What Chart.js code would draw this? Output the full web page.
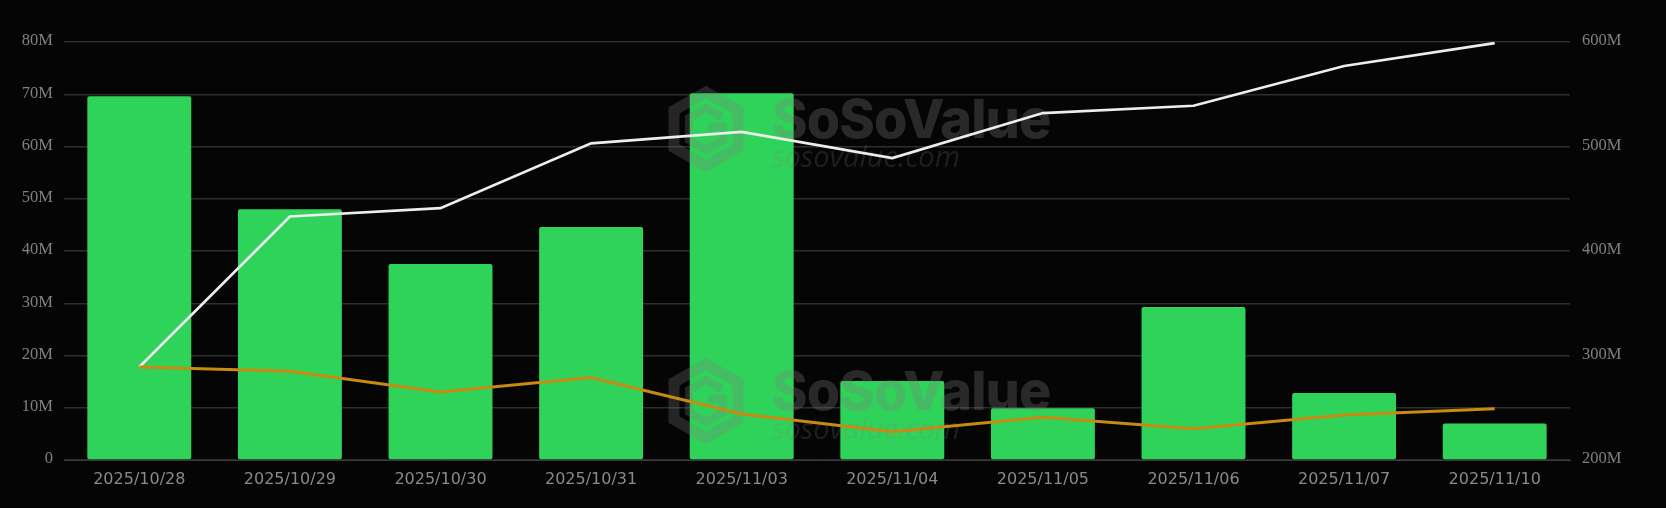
<!DOCTYPE html>
<html>
<head>
<meta charset="utf-8">
<title>Chart</title>
<script src="https://cdn.jsdelivr.net/npm/chart.js@4"></script>
<style>
    html, body { margin: 0; padding: 0; background: #050505; }
    #wrap { width: 1666px; height: 508px; }
</style>
</head>
<body>
<div id="wrap"><canvas id="chart"></canvas></div>
<script>
const dates = ['2025/10/28', '2025/10/29', '2025/10/30', '2025/10/31', '2025/11/03',
    '2025/11/04', '2025/11/05', '2025/11/06', '2025/11/07', '2025/11/10'];
const barValues = [69.6, 48, 37.5, 44.6, 70.2, 15.1, 9.9, 29.3, 12.8, 7];
const whiteLine = [289, 433, 441, 503, 514, 489, 532, 539, 577, 599];
const orangeLine = [289, 285, 265, 279, 244, 227, 241, 230, 243, 249];

// SoSoValue watermark, sits above the bars but under the lines
const watermark = {
    id: 'watermark',
    beforeDatasetDraw(chart, args) {
        if (args.index !== 1) return;
        const ctx = chart.ctx;
        [0, 272].forEach(dy => {
            ctx.save();
            ctx.fillStyle = 'rgba(125,125,125,0.3)';
            ctx.strokeStyle = 'rgba(125,125,125,0.27)';
            const cx = 706, cy = 129 + dy;
            // logo: hexagon ring
            ctx.lineWidth = 11;
            ctx.lineJoin = 'miter';
            ctx.beginPath();
            for (let i = 0; i < 6; i++) {
                const a = Math.PI / 6 + i * Math.PI / 3;
                ctx.lineTo(cx + 37 * Math.cos(a), cy + 37 * Math.sin(a));
            }
            ctx.closePath();
            ctx.stroke();
            // logo: inner fold
            ctx.lineWidth = 8;
            ctx.beginPath();
            ctx.moveTo(cx + 16, cy - 12);
            ctx.lineTo(cx, cy - 21);
            ctx.lineTo(cx - 17, cy - 11);
            ctx.lineTo(cx - 17, cy + 11);
            ctx.lineTo(cx, cy + 21);
            ctx.lineTo(cx + 17, cy + 11);
            ctx.lineTo(cx + 17, cy - 2);
            ctx.lineTo(cx + 2, cy - 2);
            ctx.stroke();
            ctx.textBaseline = 'alphabetic';
            ctx.font = '800 54px Inter';
            ctx.letterSpacing = '-0.9px';
            ctx.fillText('SoSoValue', 772, 138 + dy);
            ctx.letterSpacing = '0px';
            ctx.fillStyle = 'rgba(125,125,125,0.22)';
            ctx.font = 'italic 29px "Open Sans"';
            ctx.fillText('sosovalue.com', 772, 167 + dy);
            ctx.restore();
        });
    }
};

new Chart(document.getElementById('chart'), {
    data: {
        labels: dates,
        datasets: [
            { type: 'line', data: orangeLine, yAxisID: 'right', borderColor: '#c88a12', borderWidth: 3, pointRadius: 0, tension: 0, order: 0 },
            { type: 'line', data: whiteLine, yAxisID: 'right', borderColor: '#ededed', borderWidth: 2.7, pointRadius: 0, tension: 0, order: 1 },
            { type: 'bar', data: barValues, yAxisID: 'left', backgroundColor: '#30d35a', barPercentage: 0.69, categoryPercentage: 1, borderRadius: 2, borderSkipped: false, order: 2 }
        ]
    },
    options: {
        responsive: true,
        maintainAspectRatio: false,
        animation: false,
        layout: { padding: { top: 42, left: 0, right: 0, bottom: 0 } },
        plugins: { legend: { display: false }, tooltip: { enabled: false } },
        scales: {
            x: {
                grid: { display: false },
                border: { color: '#3a3a3a' },
                afterFit: s => { s.height = 48; },
                ticks: { color: '#8a8a8a', font: { family: 'DejaVu Sans', size: 16 }, padding: 2, maxRotation: 0, autoSkip: false }
            },
            left: {
                position: 'left',
                min: 0,
                max: 80,
                afterFit: s => { s.width = 64; },
                grid: { color: '#2e2e2e', lineWidth: 1.5, drawTicks: false },
                border: { display: false },
                ticks: {
                    stepSize: 10,
                    padding: 11,
                    labelOffset: -1,
                    color: '#808080',
                    font: { family: 'Liberation Serif', size: 16.5 },
                    callback: v => v === 0 ? '0' : v + 'M'
                }
            },
            right: {
                position: 'right',
                min: 200,
                max: 600,
                afterFit: s => { s.width = 96; },
                grid: { display: false },
                border: { display: false },
                ticks: {
                    stepSize: 100,
                    padding: 4,
                    labelOffset: -1,
                    color: '#808080',
                    font: { family: 'Liberation Serif', size: 16.5 },
                    callback: v => v + 'M'
                }
            }
        }
    },
    plugins: [watermark]
});
</script>
</body>
</html>
